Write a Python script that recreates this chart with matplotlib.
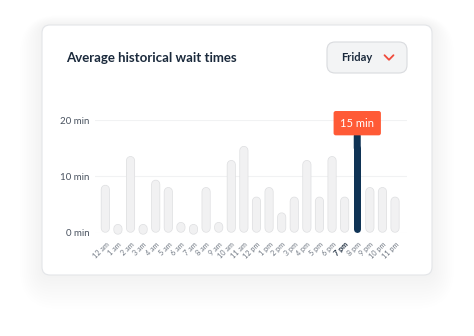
import matplotlib.pyplot as plt
from matplotlib.patches import FancyBboxPatch
from matplotlib.lines import Line2D

# hourly averages for Friday, in minutes
hours = ['12 am', '1 am', '2 am', '3 am', '4 am', '5 am', '6 am', '7 am', '8 am', '9 am',
         '10 am', '11 am', '12 pm', '1 pm', '2 pm', '3 pm', '4 pm', '5 pm', '6 pm', '7 pm',
         '8 pm', '9 pm', '10 pm', '11 pm']
wait_minutes = [8.5, 1.2, 13.6, 1.2, 9.4, 8.1, 1.9, 1.2, 8.1, 1.9,
                12.9, 15.4, 6.4, 8.1, 3.6, 6.4, 12.9, 6.4, 13.6, 6.4,
                15, 8.1, 8.1, 6.4]
selected_hour = '8 pm'
current_hour = '7 pm'
y_ticks = [0, 10, 20]
y_tick_labels = ['0 min', '10 min', '20 min']
title = 'Average historical wait times'
day = 'Friday'

W, H = 474, 336
NAVY = '#1b2a3c'
BAR_DARK = '#0f3355'
ORANGE = '#ff5a36'

plt.rcParams['font.family'] = ['Lato', 'DejaVu Sans']

fig = plt.figure(figsize=(W / 100, H / 100), dpi=100)
fig.patch.set_facecolor('white')


def px(x, y):
    # pixel position (from top-left) to figure fraction
    return x / W, 1 - y / H


def rounded_box(x0, y0, x1, y1, r, **kw):
    (fx0, fy1), (fx1, fy0) = px(x0, y0), px(x1, y1)
    box = FancyBboxPatch((fx0, fy0), fx1 - fx0, fy1 - fy0,
                         boxstyle=f'round,pad=0,rounding_size={r / W}',
                         transform=fig.transFigure, mutation_aspect=W / H, **kw)
    fig.add_artist(box)
    return box


# soft shadow under the card
for i in range(12, 0, -1):
    rounded_box(42 - i * 1.8, 25 - i * 0.8, 432 + i * 1.8, 275 + i * 2.8, 8 + i * 2.5,
                facecolor='#8a93a0', edgecolor='none', alpha=0.008, zorder=0)

# card
rounded_box(42, 25, 432, 275, 8, facecolor='white', edgecolor='#e3e5e8', linewidth=0.8, zorder=1)

fig.text(*px(66, 58), title, fontsize=9.5, fontweight='bold', color=NAVY, va='center', ha='left', zorder=3)

# day selector
rounded_box(327, 42, 407, 73, 8, facecolor='#f3f4f5', edgecolor='#d9dbde', linewidth=0.8, zorder=2)
fig.text(*px(357, 57.5), day, fontsize=8, fontweight='bold', color=NAVY, va='center', ha='center', zorder=3)
cx, cy = 389, 57.5
xs, ys = zip(px(cx - 4.5, cy - 2.3), px(cx, cy + 2.3), px(cx + 4.5, cy - 2.3))
fig.add_artist(Line2D(xs, ys, transform=fig.transFigure, color='#f04a3a', linewidth=1.3,
                      solid_capstyle='round', solid_joinstyle='round', zorder=3))

# chart area
left, right, top, bottom = 95, 407, 120, 232.7
ax = fig.add_axes([left / W, 1 - bottom / H, (right - left) / W, (bottom - top) / H])
ax.set_zorder(3)
ax.patch.set_alpha(0)
ax.set_xlim(-0.82, 23.95)
ax.set_ylim(0, 20)
px_per_min = (bottom - top) / 20

for spine in ax.spines.values():
    spine.set_visible(False)
for v in y_ticks:
    ax.axhline(v, color='#f1f2f3', linewidth=0.8, zorder=0)

for i, (hour, v) in enumerate(zip(hours, wait_minutes)):
    if hour == selected_hour:
        r = 3.5 / px_per_min
        ax.plot([i, i], [r, v], color=BAR_DARK, linewidth=7 * 0.72,
                solid_capstyle='round', clip_on=False, zorder=3)
    else:
        # capsule bars; very short ones keep a minimal length so the caps still draw
        r = 4.5 / px_per_min
        y0 = min(r, v / 2 - 0.15)
        y1 = max(v - r, v / 2 + 0.15)
        ax.plot([i, i], [y0, y1], color='#dedfe1', linewidth=9 * 0.72, snap=False,
                solid_capstyle='round', clip_on=False, zorder=2)
        ax.plot([i, i], [y0, y1], color='#f1f1f2', linewidth=7.6 * 0.72, snap=False,
                solid_capstyle='round', clip_on=False, zorder=2)

# tooltip over the selected hour
sel = hours.index(selected_hour)
ax.annotate('', xy=(sel, wait_minutes[sel]), xytext=(0, 9), textcoords='offset points',
            arrowprops=dict(arrowstyle='-', color=BAR_DARK, linewidth=7 * 0.72, shrinkA=0, shrinkB=0),
            zorder=3)
ax.annotate(f'{wait_minutes[sel]:g} min', xy=(sel, wait_minutes[sel]), xytext=(0, 18),
            textcoords='offset points', ha='center', va='center', fontsize=8, color='white',
            bbox=dict(boxstyle='round,pad=0.6,rounding_size=0.2', facecolor=ORANGE, edgecolor='none'),
            zorder=5, annotation_clip=False)

ax.set_yticks(y_ticks)
ax.set_yticklabels(y_tick_labels, fontsize=7, color='#4a5360')
ax.set_xticks(range(len(hours)))
ax.set_xticklabels(hours, fontsize=5.2, color='#6f7782', rotation=45, ha='right', rotation_mode='anchor')
for lbl in ax.get_xticklabels():
    if lbl.get_text() == current_hour:
        lbl.set_fontweight('bold')
        lbl.set_color(NAVY)
ax.tick_params(axis='both', length=0)
ax.tick_params(axis='y', pad=4)
ax.tick_params(axis='x', pad=6)

fig.savefig('out.png', dpi=100)
